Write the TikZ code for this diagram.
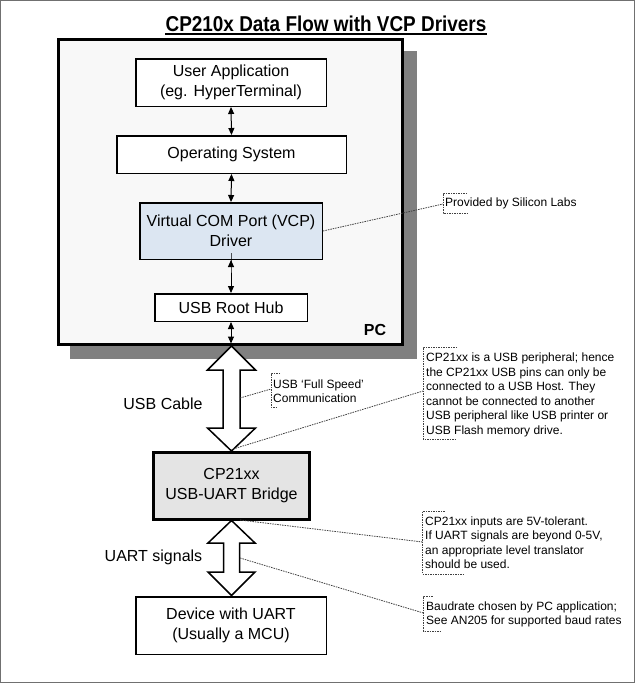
\documentclass[tikz,border=0pt]{standalone}
\usepackage{fontspec}
\setmainfont{Liberation Sans}
\newfontfamily\titlefont[FakeStretch=0.88]{Liberation Sans}
\usetikzlibrary{arrows.meta,calc}
\definecolor{vcpblue}{HTML}{DCE6F2}
\definecolor{shadowgray}{HTML}{808080}
\definecolor{pcfill}{HTML}{F8F8F8}
\definecolor{bridgefill}{HTML}{E4E4E4}
\definecolor{notegray}{HTML}{404040}
\definecolor{framegray}{HTML}{707070}
\begin{document}
\begin{tikzpicture}[x=1pt,y=-1pt,
  box/.style={draw=black, line width=1.5pt, fill=white, align=center, inner sep=0pt, font=\fontsize{16}{20}\selectfont},
  thickbox/.style={box, line width=3pt},
  link/.style={line width=1pt, {Triangle[length=7pt,width=6pt]}-{Triangle[length=7pt,width=6pt]}},
  bigarrow/.style={draw=black, line width=1.5pt, fill=white, line join=miter},
  note/.style={align=left, inner sep=0pt, anchor=north west, font=\fontsize{12}{14.5}\selectfont},
  notebracket/.style={draw=notegray, line width=0.8pt, dash pattern=on 1.5pt off 1pt},
  noteline/.style={notebracket},
  lbl/.style={inner sep=0pt, font=\fontsize{16}{20}\selectfont}
]
\path[use as bounding box] (0,0) rectangle (635,683);
\fill[white] (0,0) rectangle (635,683);
\draw[framegray, line width=1pt] (0.5,0.5) rectangle (634.5,682.5);

% title
\node[inner sep=0pt, anchor=base, font=\titlefont\bfseries\fontsize{21.5}{24}\selectfont] (title) at (326,31) {CP210x Data Flow with VCP Drivers};
\draw[line width=1.5pt] ($(title.base west)+(0,3)$) -- ($(title.base east)+(0,3)$);

% PC box with shadow
\fill[shadowgray] (70,51) rectangle (417,359);
\node[draw=black, line width=3pt, fill=pcfill, minimum width=344pt, minimum height=305pt, inner sep=0pt] (pc) at (230.5,192) {};
\node[inner sep=0pt, font=\bfseries\fontsize{16}{20}\selectfont] (pclabel) at (375,330) {PC};

% inner boxes
\node[box, minimum width=190.5pt, minimum height=47.5pt] (ua) at (231,82.5) {User Application\\(eg. HyperTerminal)};
\node[box, minimum width=229.5pt, minimum height=37.5pt] (os) at (231.5,154.5) {Operating System};
\node[box, fill=vcpblue, minimum width=182.5pt, minimum height=56.5pt] (vcp) at (231,231) {Virtual COM Port (VCP)\\Driver};
\node[box, minimum width=152.5pt, minimum height=27.5pt] (hub) at (231,307.5) {USB Root Hub};
\coordinate (hubport) at (231,343.5);

\draw[link] (ua.south) -- (os.north);
\draw[link] (os.south) -- (vcp.north);
\draw[link] (vcp.south) -- (hub.south |- vcp.south) -- (hub.north);
\draw[link] (hub.south) -- (hubport);

% bridge and device
\node[thickbox, fill=bridgefill, minimum width=156pt, minimum height=67pt] (cp) at (231.5,486) {CP21xx\\USB-UART Bridge};
\node[box, minimum width=190.5pt, minimum height=57.5pt] (dev) at (231,625.5) {Device with UART\\(Usually a MCU)};

% big hollow arrows
\coordinate (usbtop) at (231.5,346);
\coordinate (usbbot) at (231.5,451);
\draw[bigarrow] (usbtop) -- ++(24,24) -- ++(-15.5,0) -- ++(0,58) -- ++(15.5,0) -- (usbbot) -- ++(-24,-23) -- ++(15.5,0) -- ++(0,-58) -- ++(-15.5,0) -- cycle;
\coordinate (uarttop) at (231.5,520.5);
\coordinate (uartbot) at (231.5,595.5);
\draw[bigarrow] (uarttop) -- ++(23.5,22.5) -- ++(-15.5,0) -- ++(0,29) -- ++(15.5,0) -- (uartbot) -- ++(-23.5,-23.5) -- ++(15.5,0) -- ++(0,-29) -- ++(-15.5,0) -- cycle;

\node[lbl] (usbcable) at (163,404) {USB Cable};
\node[lbl] (uartsig) at (153.5,557) {UART signals};

% notes
\node[note, anchor=west] (n1) at (445,203) {Provided by Silicon Labs};
\draw[notebracket] (467,193) -- (443,193) -- (443,213) -- (467,213);
\coordinate (n1a) at (443,204);
\draw[noteline] (vcp.east) -- (n1a);

\node[note] (n2) at (273,379.5) {USB ‘Full Speed’\\Communication};
\draw[notebracket] (280,373) -- (271,373) -- (271,407) -- (278,407);
\coordinate (n2a) at (271,389);
\coordinate (usbshaft) at (240,398);
\draw[noteline] (usbshaft) -- (n2a);

\node[note] (n3) at (426,353) {CP21xx is a USB peripheral; hence\\the CP21xx USB pins can only be\\connected to a USB Host. They\\cannot be connected to another\\USB peripheral like USB printer or\\USB Flash memory drive.};
\draw[notebracket] (457,347) -- (423,347) -- (423,439) -- (457,439);
\coordinate (n3a) at (423,391);
\coordinate (usbtipnote) at (233,449);
\draw[noteline] (usbtipnote) -- (n3a);

\node[note] (n4) at (425,516.5) {CP21xx inputs are 5V-tolerant.\\If UART signals are beyond 0-5V,\\an appropriate level translator\\should be used.};
\draw[notebracket] (444.5,511) -- (422.5,511) -- (422.5,574) -- (463.5,574);
\coordinate (n4a) at (422.5,542);
\coordinate (cpout) at (240,520);
\draw[noteline] (cpout) -- (n4a);

\node[note] (n5) at (426,601.5) {Baudrate chosen by PC application;\\See AN205 for supported baud rates};
\draw[notebracket] (432.5,596) -- (423.5,596) -- (423.5,631) -- (441.5,631);
\coordinate (n5a) at (423.5,613);
\coordinate (uartshaft) at (240,558);
\draw[noteline] (uartshaft) -- (n5a);
\end{tikzpicture}
\end{document}
